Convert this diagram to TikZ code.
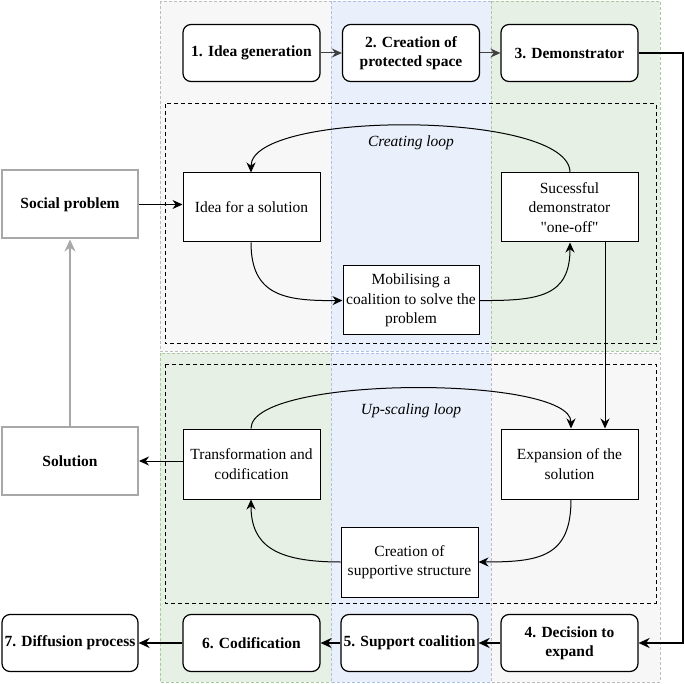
\documentclass[tikz,border=0pt]{standalone}
\usepackage{fontspec}
\setmainfont{Liberation Serif}[Ligatures=TeXOff]
\usetikzlibrary{arrows.meta,calc}
\definecolor{grayfill}{HTML}{F7F7F7}
\definecolor{graystroke}{HTML}{BDBDBD}
\definecolor{bluefill}{HTML}{EAF0FB}
\definecolor{bluestroke}{HTML}{A9C1E6}
\definecolor{greenfill}{HTML}{E6F0E4}
\definecolor{greenstroke}{HTML}{A6CC9E}
\definecolor{gbord}{HTML}{A8A8A8}
\definecolor{darkline}{HTML}{404040}
\begin{document}
\begin{tikzpicture}[x=1pt,y=-1pt,
  txt/.style={font=\fontsize{15.5}{19.4}\selectfont},
  bgcol/.style={line width=0.7pt, dash pattern=on 3pt off 2pt},
  loopbox/.style={draw=black, line width=1pt, dash pattern=on 4pt off 3pt},
  rbox/.style={txt, draw, line width=1.2pt, rounded corners=8pt, fill=white, font=\fontsize{15.5}{19.4}\selectfont\bfseries, align=center, inner sep=1pt, minimum width=137pt, minimum height=57pt},
  pbox/.style={txt, draw, line width=1pt, fill=white, align=center, inner sep=1pt, minimum width=137pt, minimum height=69pt},
  gbox/.style={draw=gbord, line width=2pt, fill=white, font=\fontsize{15.5}{19.4}\selectfont\bfseries, align=center, inner sep=1pt, minimum width=136pt, minimum height=68pt},
  arr/.style={-{Stealth[length=10pt,width=9pt]}, line width=1pt},
  thk/.style={-{Stealth[length=11pt,width=10pt]}, line width=2pt},
  grayarr/.style={-{Stealth[length=12pt,width=11pt]}, line width=2pt, draw=gbord, color=gbord}
]
\useasboundingbox (0,0) rectangle (685,684);
% background columns, top half
\path[bgcol, fill=grayfill, draw=graystroke] (160,1) rectangle (331,351);
\path[bgcol, fill=bluefill, draw=bluestroke] (331,1) rectangle (491,351);
\path[bgcol, fill=greenfill, draw=greenstroke] (491,1) rectangle (660,351);
% background columns, bottom half
\path[bgcol, fill=greenfill, draw=greenstroke] (160,353) rectangle (331,682);
\path[bgcol, fill=bluefill, draw=bluestroke] (331,353) rectangle (491,682);
\path[bgcol, fill=grayfill, draw=graystroke] (491,353) rectangle (660,682);
% loop boxes
\draw[loopbox] (165,104) rectangle (656,344);
\draw[loopbox] (165,364) rectangle (656,603);
\node[txt, font=\fontsize{15.5}{19.4}\selectfont\itshape] (cl) at (411,143) {Creating loop};
\node[txt, font=\fontsize{15.5}{19.4}\selectfont\itshape] (ul) at (411,411) {Up-scaling loop};

% top row
\node[rbox] (b1) at (251.5,53) {1. Idea generation};
\node[rbox] (b2) at (411,53) {2. Creation of\\protected space};
\node[rbox] (b3) at (569.5,53) {3. Demonstrator};
% bottom row
\node[rbox, minimum width=136pt] (b7) at (70,643) {7. Diffusion process};
\node[rbox] (b6) at (251.5,643) {6. Codification};
\node[rbox] (b5) at (409.5,643) {5. Support coalition};
\node[rbox] (b4) at (569.5,643) {4. Decision to\\expand};

% creating loop nodes
\node[pbox] (idea) at (251.5,207.5) {Idea for a solution};
\node[pbox] (succ) at (569.5,207.5) {Sucessful\\demonstrator\\"one-off"};
\node[pbox, minimum width=136pt] (mob) at (411,300.5) {Mobilising a\\coalition to solve the\\problem};
% up-scaling loop nodes
\node[pbox, minimum height=70pt] (trans) at (251.5,464) {Transformation and\\codification};
\node[pbox, minimum height=70pt] (exp) at (569.5,464) {Expansion of the\\solution};
\node[pbox, minimum height=70pt] (cre) at (409.5,562) {Creation of\\supportive structure};
% left nodes
\node[gbox] (soc) at (70,204.5) {Social problem};
\node[gbox] (sol) at (70,461) {Solution};

% top row arrows
\draw[arr, draw=darkline] (b1) -- (b2);
\draw[arr, draw=darkline] (b2) -- (b3);
% thick right connector
\coordinate (rc) at (683,53);
\draw[thk] (b3.east) -- (rc) |- (b4.east);
% bottom arrows
\draw[thk] (b4) -- (b5);
\draw[thk] (b5) -- (b6);
\draw[thk] (b6) -- (b7);

% left connectors
\draw[arr] (soc.east) -- (soc.east -| idea.west);
\draw[arr] (trans.west |- sol.east) -- (sol.east);
\draw[grayarr] (sol.north) -- (soc.south);

% creating loop curves
\draw[arr] ([xshift=0.5pt]succ.north) .. controls (570,110) and (251,110) .. ([xshift=-0.5pt]idea.north);
\draw[arr] ([xshift=-0.5pt]idea.south) .. controls (251,296) and (285,301) .. (mob.west);
\draw[arr] (mob.east) .. controls (540,301) and (570,296) .. ([xshift=0.5pt]succ.south);
\draw[arr] ([xshift=35.5pt]succ.south) -- ([xshift=35.5pt]exp.north);

% up-scaling loop curves
\draw[arr] ([xshift=-0.5pt]trans.north) .. controls (251,375) and (571,375) .. ([xshift=1.5pt]exp.north);
\draw[arr] ([xshift=1.5pt]exp.south) .. controls (571,557) and (540,562) .. (cre.east);
\draw[arr] (cre.west) .. controls (275,562) and (251,545) .. ([xshift=-0.5pt]trans.south);
\end{tikzpicture}
\end{document}
